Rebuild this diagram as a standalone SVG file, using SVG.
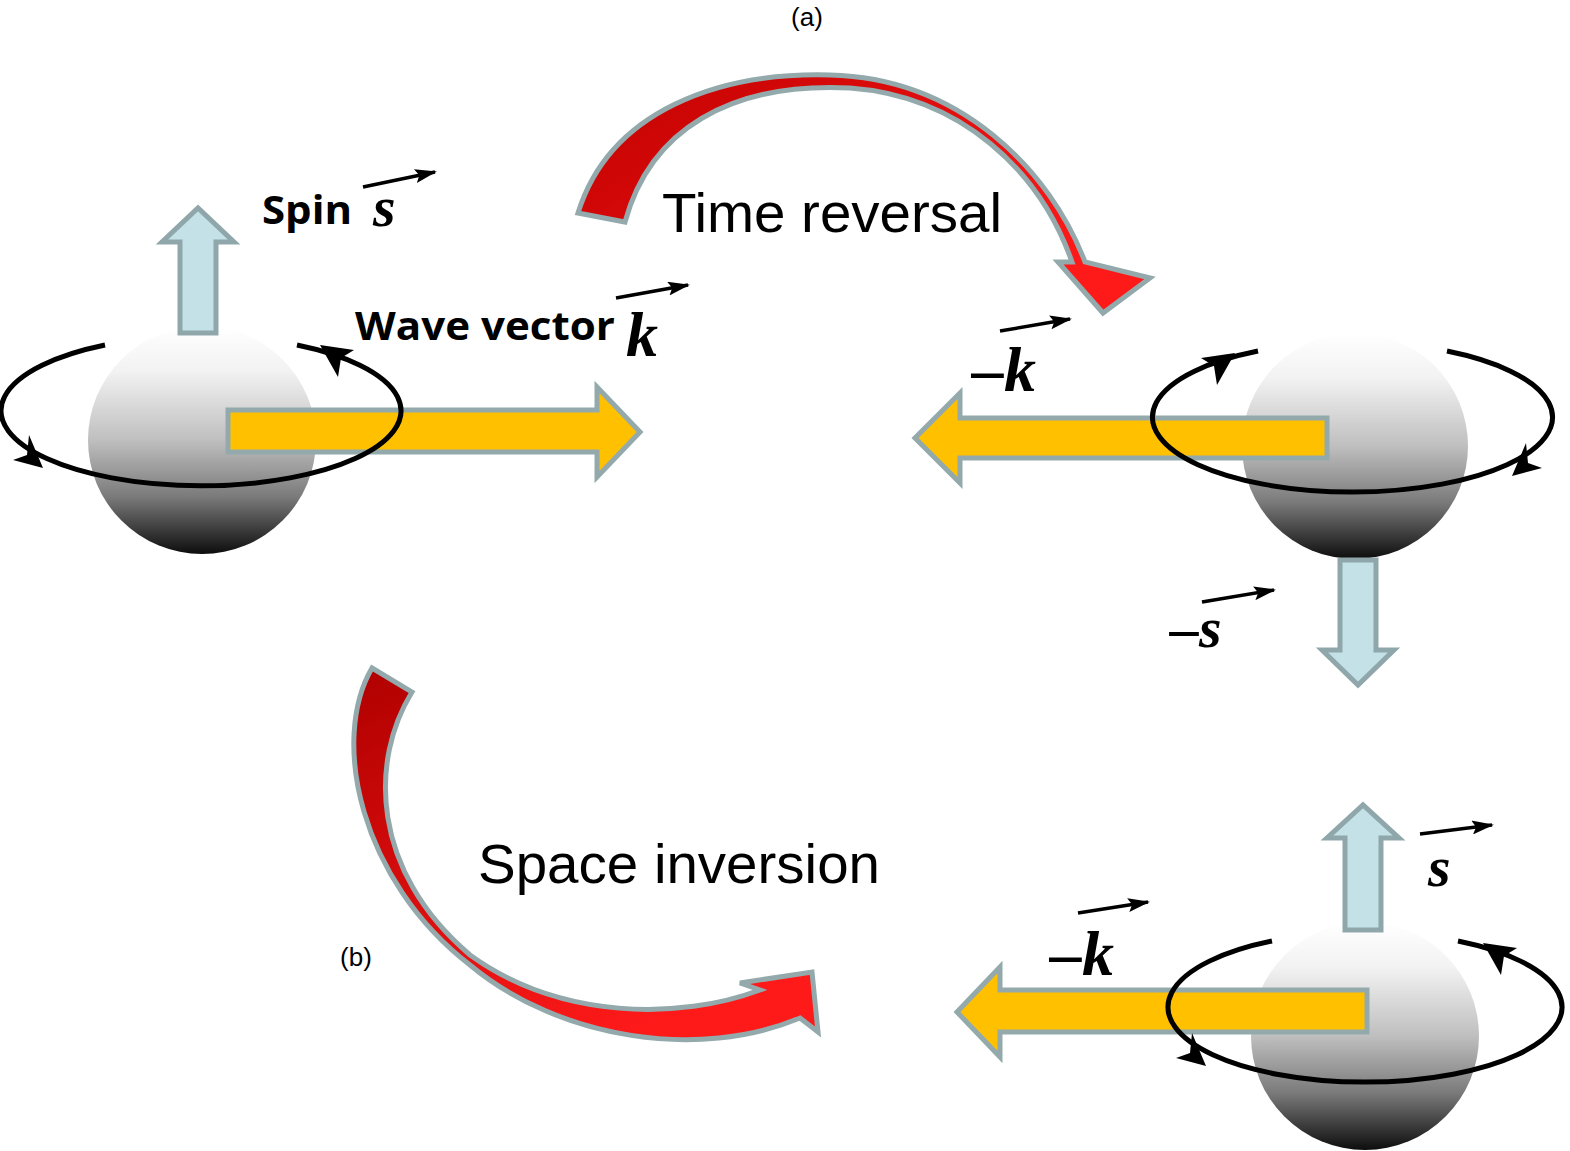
<svg xmlns="http://www.w3.org/2000/svg" width="1570" height="1151" viewBox="0 0 1570 1151">
<style>
.blk{fill:#ffc000;stroke:#93a9ab;stroke-width:5}
.spin{fill:#c3e1e6;stroke:#8fa7aa;stroke-width:5}
.orb{fill:none;stroke:#000;stroke-width:5}
.red{stroke:#93a9ab;stroke-width:5}
.lbl{font-family:"Liberation Sans",Arial,sans-serif;fill:#000}
.bl{font-family:"Open Sans","DejaVu Sans",sans-serif;font-weight:bold;fill:#000}
.vec{font-family:"Liberation Serif","Times New Roman",serif;font-weight:bold;font-style:italic;fill:#000}
.va{stroke:#000;stroke-width:3.5;fill:none;marker-end:url(#ah)}
</style>
<defs>
<linearGradient id="sph" x1="0" y1="0" x2="0" y2="1">
<stop offset="0" stop-color="#ffffff"/><stop offset="0.2" stop-color="#f2f2f2"/><stop offset="0.5" stop-color="#bfbfbf"/><stop offset="0.75" stop-color="#7a7a7a"/><stop offset="1" stop-color="#0d0d0d"/>
</linearGradient>
<linearGradient id="rg1" x1="0" y1="0" x2="1" y2="0.6">
<stop offset="0" stop-color="#c00000"/><stop offset="1" stop-color="#ff1a1a"/>
</linearGradient>
<linearGradient id="rg2" x1="0" y1="0" x2="0.6" y2="1">
<stop offset="0" stop-color="#b00000"/><stop offset="1" stop-color="#ff1a1a"/>
</linearGradient>
<marker id="ah" markerWidth="22" markerHeight="14" refX="20" refY="7" orient="auto" markerUnits="userSpaceOnUse" viewBox="0 0 22 14"><path d="M0,0 L22,7 L0,14 L4,7 Z" fill="#000"/></marker>
<g id="oheads">
<path d="M320,345 L354,350 L341,358 L338,377 Z" fill="#000"/>
<path d="M43,468 L13,460 L27,455 L29,435 Z" fill="#000"/>
</g>
</defs>

<text class="lbl" x="807" y="26" font-size="26" text-anchor="middle">(a)</text>
<text class="lbl" x="356" y="966" font-size="26" text-anchor="middle">(b)</text>

<g id="time-reversal">
<path class="red" fill="url(#rg1)" d="M578,213 C610,110 720,72 830,75 C960,78 1050,170 1085,262 L1150,278 L1103,313 L1058,262 L1072,262 C1040,170 960,96 850,88 C730,82 650,130 625,222 Z"/>
<text class="lbl" x="662" y="232" font-size="55" textLength="340" lengthAdjust="spacingAndGlyphs">Time reversal</text>
</g>

<g id="space-inversion">
<path class="red" fill="url(#rg2)" d="M372,668 L412,692 C370,760 370,870 470,955 C560,1020 680,1020 760,990 L740,983 L812,972 L818,1032 L800,1018 C700,1060 560,1040 470,965 C360,880 330,740 372,668 Z"/>
<text class="lbl" x="478" y="883" font-size="55" textLength="402" lengthAdjust="spacingAndGlyphs">Space inversion</text>
</g>

<g id="particle1">
<circle cx="202" cy="440" r="114" fill="url(#sph)"/>
<path class="spin" d="M180,333 L180,242 L162,242 L198,208 L234,242 L216,242 L216,333 Z"/>
<path class="blk" d="M228,410 L597,410 L597,387 L640,432 L597,477 L597,452 L228,452 Z"/>
<path class="orb" d="M297,345 A200,75 0 1 1 105,345"/>
<use href="#oheads"/>
<text class="bl" x="262" y="224" font-size="39" textLength="90" lengthAdjust="spacingAndGlyphs">Spin</text>
<text class="vec" x="373" y="226" font-size="58">s</text>
<line class="va" x1="363" y1="187" x2="435" y2="172"/>
<text class="bl" x="355" y="340" font-size="39" textLength="260" lengthAdjust="spacingAndGlyphs">Wave vector</text>
<text class="vec" x="626" y="356" font-size="64">k</text>
<line class="va" x1="616" y1="298" x2="688" y2="285"/>
</g>

<g id="particle2">
<circle cx="1355" cy="446" r="113" fill="url(#sph)"/>
<path class="blk" d="M1327,418 L960,418 L960,393 L915,438 L960,483 L960,458 L1327,458 Z"/>
<path class="spin" d="M1340,560 L1340,650 L1322,650 L1358,685 L1394,650 L1376,650 L1376,560 Z"/>
<path class="orb" d="M1447,351 A200,75 0 1 1 1258,351"/>
<use href="#oheads" transform="translate(1555,8) scale(-1,1)"/>
<text class="vec" x="972" y="391" font-size="64">–k</text>
<line class="va" x1="1000" y1="331" x2="1070" y2="319"/>
<text class="vec" x="1170" y="647" font-size="58">–s</text>
<line class="va" x1="1202" y1="602" x2="1274" y2="590"/>
</g>

<g id="particle3">
<circle cx="1365" cy="1036" r="114" fill="url(#sph)"/>
<path class="spin" d="M1345,930 L1345,838 L1327,838 L1363,805 L1399,838 L1381,838 L1381,930 Z"/>
<path class="blk" d="M1367,990 L1000,990 L1000,967 L957,1012 L1000,1057 L1000,1032 L1367,1032 Z"/>
<path class="orb" d="M1458,941 A197,75 0 1 1 1272,941"/>
<use href="#oheads" transform="translate(1163,598)"/>
<text class="vec" x="1428" y="886" font-size="58">s</text>
<line class="va" x1="1420" y1="834" x2="1492" y2="825"/>
<text class="vec" x="1050" y="975" font-size="64">–k</text>
<line class="va" x1="1078" y1="913" x2="1148" y2="902"/>
</g>
</svg>
